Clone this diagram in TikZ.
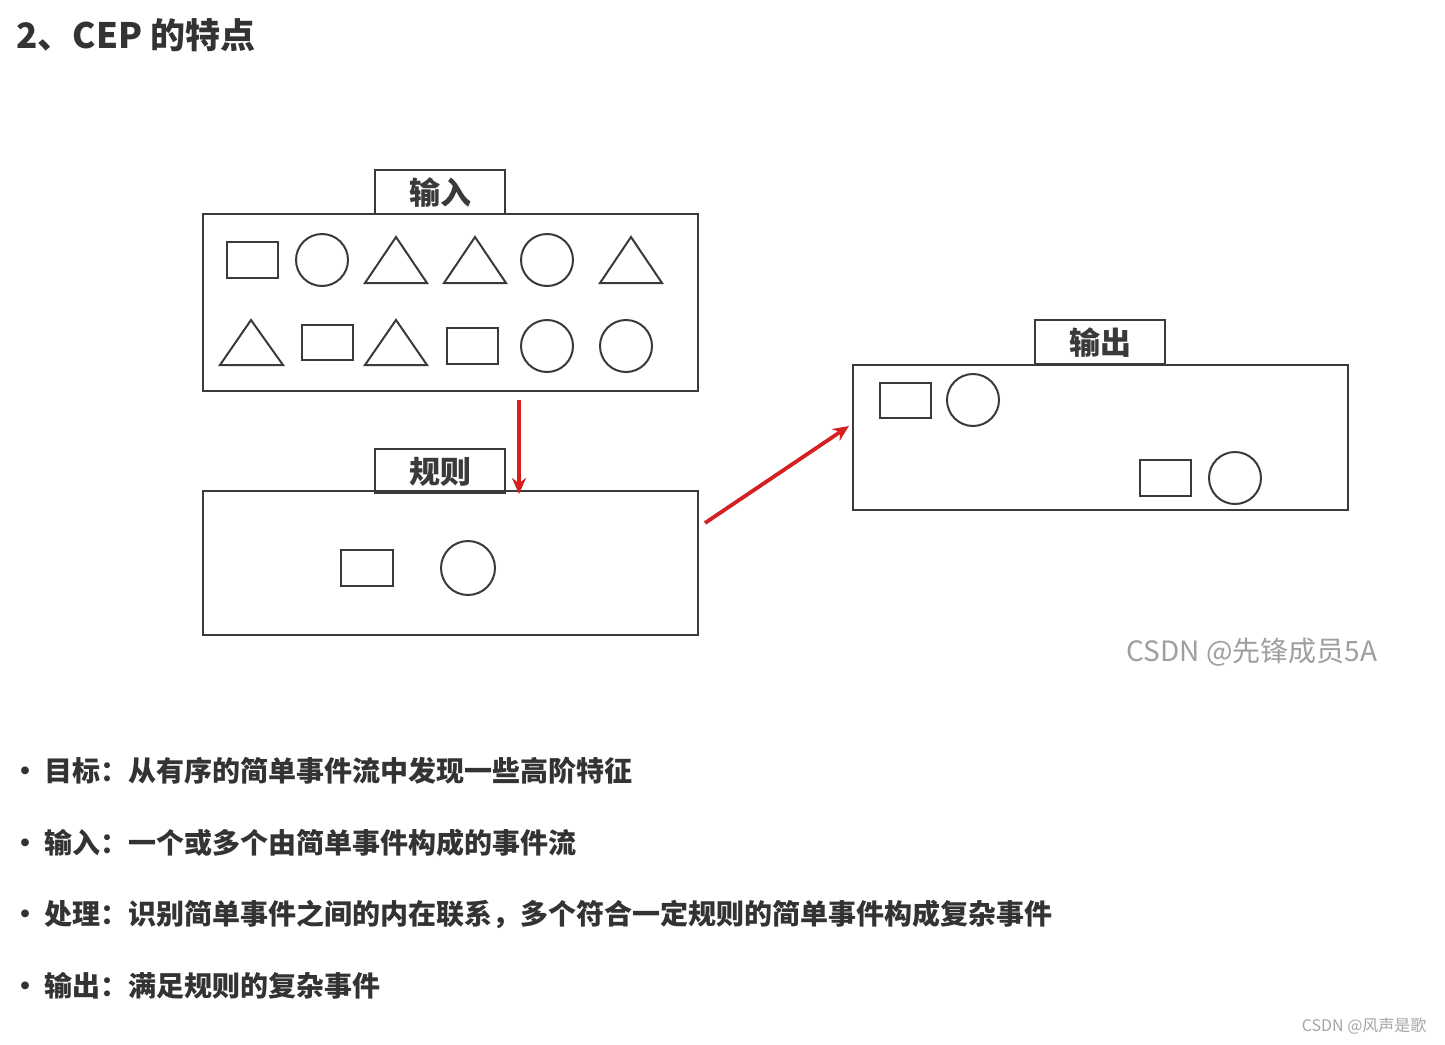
\documentclass[tikz,border=0pt]{standalone}
\usepackage{fontspec}
\setmainfont{Noto Sans CJK SC}
\usetikzlibrary{arrows.meta}
\definecolor{txt}{HTML}{333333}
\definecolor{ln}{HTML}{3A3A3A}
\definecolor{rd}{HTML}{D42020}
\tikzset{box/.style={draw=ln,line width=2.2pt},
 shp/.style={draw=ln,line width=2pt},
 tabtxt/.style={font=\fontsize{31}{31}\selectfont\bfseries,text=ln},
 bul/.style={anchor=west,font=\fontsize{28}{28}\selectfont\bfseries,text=txt},
 rarr/.style={draw=rd,line width=3.8pt,-{Stealth[length=16pt,width=14pt]}}}
\begin{document}
\begin{tikzpicture}[x=1pt,y=-1pt]
\useasboundingbox[fill=white] (0,0) rectangle (1445,1044);
\node[anchor=west,font=\fontsize{35}{35}\selectfont\bfseries,text=txt] (title) at (13,35) {2、CEP 的特点};
% input
\draw[box] (375,214) rectangle (505,170); \node[tabtxt] (tin) at (440,193) {输入};
\draw[box] (203,214) rectangle (698,391);
\draw[shp] (227,242) rectangle (278,278);
\draw[shp] (322,260) circle (26);
\draw[shp] (365,283) -- (427,283) -- (396,237) -- cycle;
\draw[shp] (444,283) -- (506,283) -- (475,237) -- cycle;
\draw[shp] (547,260) circle (26);
\draw[shp] (600,283) -- (662,283) -- (631,237) -- cycle;
\draw[shp] (220,365) -- (283,365) -- (251,320) -- cycle;
\draw[shp] (302,325) rectangle (353,360);
\draw[shp] (365,365) -- (427,365) -- (396,320) -- cycle;
\draw[shp] (447,328) rectangle (498,364);
\draw[shp] (547,346) circle (26);
\draw[shp] (626,346) circle (26);
% rule
\draw[box] (375,493) rectangle (505,449); \node[tabtxt] (trule) at (440,472) {规则};
\draw[box] (203,491) rectangle (698,635);
\draw[shp] (341,550) rectangle (393,586);
\draw[shp] (468,568) circle (27);
% output
\draw[box] (1035,364) rectangle (1165,320); \node[tabtxt] (tout) at (1100,343) {输出};
\draw[box] (853,365) rectangle (1348,510);
\draw[shp] (880,383) rectangle (931,418);
\draw[shp] (973,400) circle (26);
\draw[shp] (1140,460) rectangle (1191,496);
\draw[shp] (1235,478) circle (26);
% arrows
\coordinate (a1) at (519,400); \coordinate (a2) at (519,494);
\draw[rarr] (a1) -- (a2);
\coordinate (b1) at (705,523); \coordinate (b2) at (849,426);
\draw[rarr] (b1) -- (b2);
\node[font=\fontsize{28}{28}\selectfont,text=gray!75] (wm) at (1252,652) {CSDN @先锋成员5A};
\node[bul] (l1) at (8,771) {•\,目标：从有序的简单事件流中发现一些高阶特征};
\node[bul] (l2) at (8,843) {•\,输入：一个或多个由简单事件构成的事件流};
\node[bul] (l3) at (8,914) {•\,处理：识别简单事件之间的内在联系，多个符合一定规则的简单事件构成复杂事件};
\node[bul] (l4) at (8,986) {•\,输出：满足规则的复杂事件};
\node[anchor=east,font=\fontsize{16}{16}\selectfont,text=gray!70] (wm2) at (1430,1026) {CSDN @风声是歌};
\end{tikzpicture}
\end{document}
